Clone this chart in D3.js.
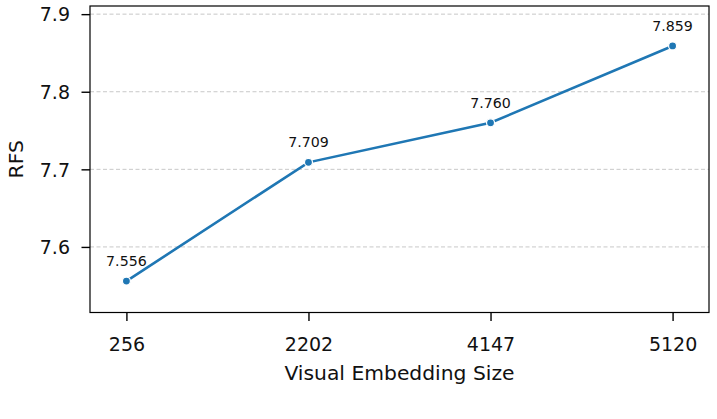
<!DOCTYPE html>
<html><head><meta charset="utf-8">
<script src="https://cdn.jsdelivr.net/npm/d3@7"></script>
<style>body{margin:0;background:#fff}svg{display:block;font-family:"DejaVu Sans",sans-serif}</style>
</head><body><svg id="c" width="717" height="419"></svg>
<script>
const categories = ["256", "2202", "4147", "5120"];
const values = [7.556, 7.709, 7.760, 7.859];
const yTicks = [7.6, 7.7, 7.8, 7.9];

const svg = d3.select("#c");
const L = 90, R = 709, T = 6, B = 312.5;
const x = d3.scalePoint().domain(categories).range([L, R]).padding(0.2);
const y = d3.scaleLinear().domain([7.5155, 7.9105]).range([B, T]);

// grid
svg.append("g").selectAll("line").data(yTicks).join("line")
  .attr("x1", L).attr("x2", R).attr("y1", d => y(d)).attr("y2", d => y(d))
  .attr("stroke", "#c8c8c8").attr("stroke-width", 1).attr("stroke-dasharray", "4,2.5");

// axes
const yAxis = svg.append("g").attr("transform", `translate(${L},0)`)
  .call(d3.axisLeft(y).tickValues(yTicks).tickFormat(d3.format(".1f")).tickSize(8.5).tickPadding(11.5));
const xAxis = svg.append("g").attr("transform", `translate(0,${B})`)
  .call(d3.axisBottom(x).tickSize(8.5));
xAxis.selectAll("text").attr("y", 38).attr("dy", 0);
yAxis.selectAll("text").attr("dy", "0.36em");
[xAxis, yAxis].forEach(a => {
  a.select(".domain").remove();
  a.selectAll("line").attr("stroke", "#000").attr("stroke-width", 1.4);
  a.selectAll("text").attr("font-size", 19).attr("fill", "#111").attr("font-family", "DejaVu Sans");
});
svg.append("rect").attr("x", L).attr("y", T).attr("width", R - L).attr("height", B - T)
  .attr("fill", "none").attr("stroke", "#000").attr("stroke-width", 1.2);

// line
const data = categories.map((c, i) => ({c, v: values[i]}));
svg.append("path").datum(data)
  .attr("d", d3.line().x(d => x(d.c)).y(d => y(d.v)))
  .attr("fill", "none").attr("stroke", "#1f77b4").attr("stroke-width", 2.6);
svg.append("g").selectAll("circle").data(data).join("circle")
  .attr("cx", d => x(d.c)).attr("cy", d => y(d.v)).attr("r", 4)
  .attr("fill", "#1f77b4").attr("stroke", "#fff").attr("stroke-width", 1.2);
svg.append("g").selectAll("text").data(data).join("text")
  .attr("x", d => x(d.c)).attr("y", d => y(d.v) - 15)
  .attr("text-anchor", "middle").attr("font-size", 14.2).attr("fill", "#111")
  .text(d => d.v.toFixed(3));

// labels
svg.append("text").attr("x", (L + R) / 2).attr("y", 380).attr("text-anchor", "middle")
  .attr("font-size", 20.3).attr("fill", "#111").text("Visual Embedding Size");
svg.append("text").attr("transform", `translate(22.5,${(T + B) / 2}) rotate(-90)`).attr("text-anchor", "middle")
  .attr("font-size", 20.3).attr("fill", "#111").text("RFS");
</script></body></html>
